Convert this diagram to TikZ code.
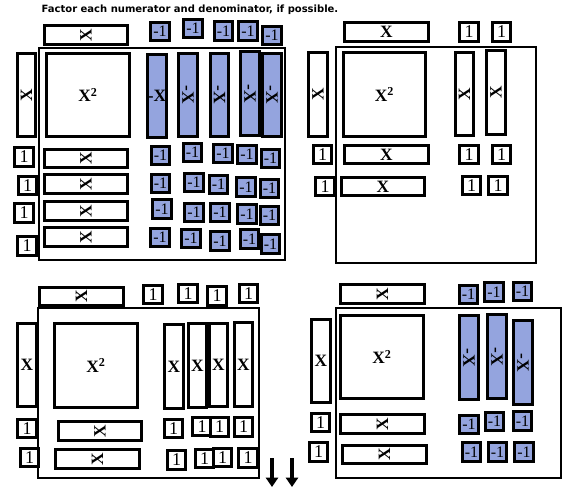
\documentclass[tikz,border=0pt]{standalone}
\usepackage{fontspec}
\setmainfont{Liberation Serif}
\newfontfamily\titlefont{DejaVu Sans}
\usepackage{tikz}
\usetikzlibrary{arrows.meta}
\definecolor{tileblue}{RGB}{148,164,222}
\newcommand{\onesize}{14pt}
\newcommand{\xlength}{62.5pt}
\newcommand{\sideX}{\rotatebox{90}{X}}
\newcommand{\negX}{\rotatebox{-90}{-X}}
\tikzstyle{tile}=[draw, line width=2.1pt, inner sep=0, fill=white, font=\fontsize{13pt}{13pt}\selectfont\bfseries]
\tikzstyle{one}=[tile, minimum width=\onesize, minimum height=\onesize, font=\fontsize{13.5pt}{13pt}\selectfont]
\tikzstyle{negone}=[one, fill=tileblue, font=\fontsize{12pt}{12pt}\selectfont]
\tikzstyle{xbar}=[tile, minimum width=\xlength, minimum height=\onesize]
\tikzstyle{xpost}=[tile, minimum width=\onesize, minimum height=\xlength]
\tikzstyle{negxpost}=[xpost, fill=tileblue]
\tikzstyle{square}=[tile, minimum width=62pt, minimum height=\xlength]
\tikzstyle{mat}=[draw, line width=0.8pt]
\tikzstyle{down}=[-{Triangle[width=9pt, length=7pt]}, line width=2.6pt]

\begin{document}
\begin{tikzpicture}[x=0.75pt, y=-0.75pt]
  \useasboundingbox (0,0) rectangle (570,492);
  \node[font=\titlefont\bfseries\fontsize{7.5pt}{8pt}\selectfont] (title) at (190,10) {Factor each numerator and denominator, if possible.};

  % top left
  \draw[mat] (39,48) rectangle (285,260);
  \node[xbar] (A0) at (86,35) {\sideX};
  \node[xpost] (Ay) at (26.5,95) {\sideX};
  \node[square] (Asq) at (88,95) {X$^{\mathbf 2}$};
  \node[negxpost] (An1) at (157,96) {-X};
  \node[negxpost] (An2) at (188,95) {\negX};
  \node[negxpost] (An3) at (219.5,95) {\negX};
  \node[negxpost] (An4) at (250,93.5) {\negX};
  \node[negxpost] (An5) at (272,95) {\negX};
  \node[negone] (At1) at (160,31.5) {-1};
  \node[negone] (At2) at (193,28.5) {-1};
  \node[negone] (At3) at (223.5,31) {-1};
  \node[negone] (At4) at (248,31) {-1};
  \node[negone] (At5) at (272,35.5) {-1};
  \node[xbar] (Ax1) at (86,158.5) {\sideX};
  \node[xbar] (Ax2) at (86,184) {\sideX};
  \node[xbar] (Ax3) at (86,211) {\sideX};
  \node[xbar] (Ax4) at (86,237) {\sideX};
  \node[one] (Au1) at (24,157) {1};
  \node[one] (Au2) at (27.5,185.5) {1};
  \node[one] (Au3) at (24,213) {1};
  \node[one] (Au4) at (27,246) {1};

  \node[negone] (A11) at (160.5,155.5) {-1};
  \node[negone] (A12) at (192.5,152.5) {-1};
  \node[negone] (A13) at (223,153.5) {-1};
  \node[negone] (A14) at (247,154.5) {-1};
  \node[negone] (A15) at (270.5,158.5) {-1};
  \node[negone] (A21) at (160.5,183.5) {-1};
  \node[negone] (A22) at (194,182.5) {-1};
  \node[negone] (A23) at (218.5,184.5) {-1};
  \node[negone] (A24) at (246,187) {-1};
  \node[negone] (A25) at (269.5,188.5) {-1};
  \node[negone] (A31) at (162,209) {-1};
  \node[negone] (A32) at (194,212.5) {-1};
  \node[negone] (A33) at (220,212.5) {-1};
  \node[negone] (A34) at (247,214) {-1};
  \node[negone] (A35) at (269.5,215.5) {-1};
  \node[negone] (A41) at (160,237.5) {-1};
  \node[negone] (A42) at (191,238.5) {-1};
  \node[negone] (A43) at (220,241) {-1};
  \node[negone] (A44) at (249.5,239) {-1};
  \node[negone] (A45) at (270.5,244) {-1};

  % top right
  \draw[mat] (336,47) rectangle (536,263);
  \node[xbar] (B0) at (386.5,32) {X};
  \node[one] (Bt1) at (469,32) {1};
  \node[one] (Bt2) at (501.5,32) {1};
  \node[xpost] (By) at (318,94.5) {\sideX};
  \node[square] (Bsq) at (384.5,94.5) {X$^{\mathbf 2}$};
  \node[xpost] (Bp1) at (464.5,94) {\sideX};
  \node[xpost] (Bp2) at (496,92.5) {\sideX};
  \node[xbar] (Bx1) at (386.5,154.5) {X};
  \node[xbar] (Bx2) at (383,186.5) {X};
  \node[one] (Bu1) at (322.5,154.5) {1};
  \node[one] (Bu2) at (325,186.5) {1};
  \node[one] (B11) at (469,154.5) {1};
  \node[one] (B12) at (501.5,154.5) {1};
  \node[one] (B21) at (471.5,185.5) {1};
  \node[one] (B22) at (498,185.5) {1};

  % bottom left
  \draw[mat] (38,308) rectangle (259,478);
  \node[xbar] (C0) at (81.5,296.5) {\sideX};
  \node[one] (Ct1) at (153,294.5) {1};
  \node[one] (Ct2) at (188,293.5) {1};
  \node[one] (Ct3) at (217,296) {1};
  \node[one] (Ct4) at (248.5,293.5) {1};
  \node[xpost] (Cy) at (27,365) {X};
  \node[square] (Csq) at (96,365.5) {X$^{\mathbf 2}$};
  \node[xpost] (Cp1) at (174,366.5) {X};
  \node[xpost] (Cp2) at (197.5,365.5) {X};
  \node[xpost] (Cp3) at (218.5,365) {X};
  \node[xpost] (Cp4) at (243.5,364.5) {X};
  \node[xbar] (Cx1) at (100,431) {\sideX};
  \node[xbar] (Cx2) at (97.5,459) {\sideX};
  \node[one] (Cu1) at (27,428.5) {1};
  \node[one] (Cu2) at (29.5,457.5) {1};
  \node[one] (C11) at (173.5,428.5) {1};
  \node[one] (C12) at (202,426.5) {1};
  \node[one] (C13) at (219.5,427) {1};
  \node[one] (C14) at (243.5,427) {1};
  \node[one] (C21) at (176.5,460) {1};
  \node[one] (C22) at (204.5,458.5) {1};
  \node[one] (C23) at (222.5,457.5) {1};
  \node[one] (C24) at (248,458) {1};
  \coordinate (d1a) at (272,458);
  \coordinate (d1b) at (272,487);
  \coordinate (d2a) at (292,458);
  \coordinate (d2b) at (292,487);
  \draw[down] (d1a) -- (d1b);
  \draw[down] (d2a) -- (d2b);

  % bottom right
  \draw[mat] (336,308) rectangle (561,478);
  \node[xbar] (D0) at (382.5,294) {\sideX};
  \node[negone] (Dt1) at (468.5,294.5) {-1};
  \node[negone] (Dt2) at (494,292) {-1};
  \node[negone] (Dt3) at (522.5,291.5) {-1};
  \node[xpost] (Dy) at (321,361) {X};
  \node[square] (Dsq) at (382,357) {X$^{\mathbf 2}$};
  \node[negxpost] (Dn1) at (469,357.5) {\negX};
  \node[negxpost] (Dn2) at (497,356.5) {\negX};
  \node[negxpost] (Dn3) at (523,362.5) {\negX};
  \node[xbar] (Dx1) at (382.5,424) {\sideX};
  \node[xbar] (Dx2) at (384.5,454.5) {\sideX};
  \node[one] (Du1) at (320.5,422.5) {1};
  \node[one] (Du2) at (318.5,452) {1};
  \node[negone] (D11) at (469,424.5) {-1};
  \node[negone] (D12) at (494.5,421.5) {-1};
  \node[negone] (D13) at (522.5,421) {-1};
  \node[negone] (D21) at (471.5,452) {-1};
  \node[negone] (D22) at (497.5,452) {-1};
  \node[negone] (D23) at (524,452) {-1};
\end{tikzpicture}
\end{document}
